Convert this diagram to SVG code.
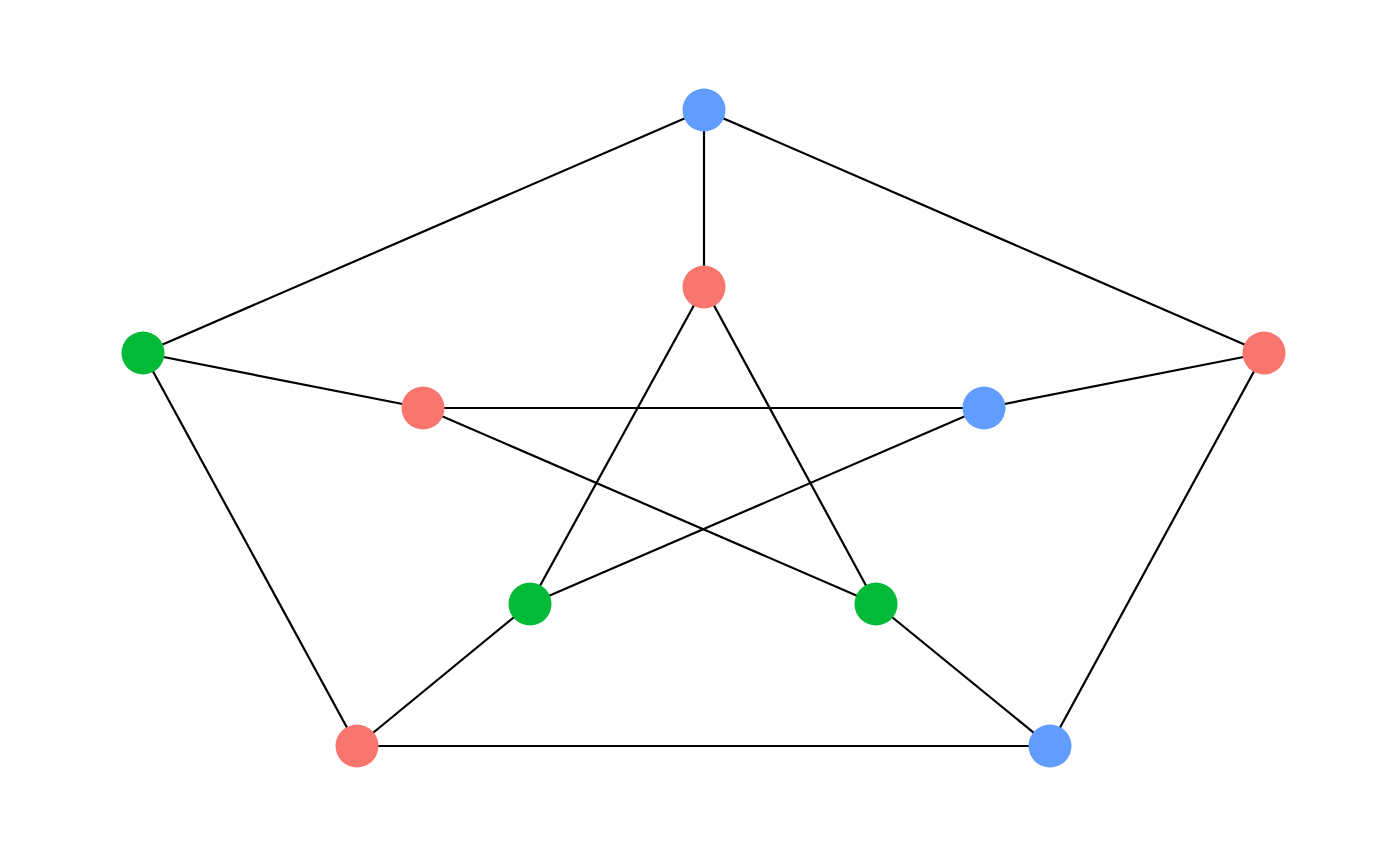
<svg xmlns="http://www.w3.org/2000/svg" width="1400" height="865" viewBox="0 0 1400 865">
<style>
.e{stroke:#000;stroke-width:2.2;fill:none}
.b{fill:#619CFF}.r{fill:#F8766D}.g{fill:#00BA38}
</style>
<rect width="1400" height="865" fill="#fff"/>
<g id="edges" class="e">
<line x1="704" y1="110" x2="143" y2="353"/>
<line x1="704" y1="110" x2="1264" y2="353"/>
<line x1="143" y1="353" x2="357" y2="746"/>
<line x1="1264" y1="353" x2="1050" y2="746"/>
<line x1="357" y1="746" x2="1050" y2="746"/>
<line x1="704" y1="110" x2="704" y2="287"/>
<line x1="143" y1="353" x2="423" y2="408"/>
<line x1="1264" y1="353" x2="984" y2="408"/>
<line x1="357" y1="746" x2="530" y2="604"/>
<line x1="1050" y1="746" x2="876" y2="604"/>
<line x1="704" y1="287" x2="530" y2="604"/>
<line x1="704" y1="287" x2="876" y2="604"/>
<line x1="423" y1="408" x2="984" y2="408"/>
<line x1="423" y1="408" x2="876" y2="604"/>
<line x1="984" y1="408" x2="530" y2="604"/>
</g>
<g id="n1"><circle class="b" cx="704" cy="110" r="21.5"/></g>
<g id="n2"><circle class="g" cx="143" cy="353" r="21.5"/></g>
<g id="n3"><circle class="r" cx="1264" cy="353" r="21.5"/></g>
<g id="n4"><circle class="r" cx="357" cy="746" r="21.5"/></g>
<g id="n5"><circle class="b" cx="1050" cy="746" r="21.5"/></g>
<g id="n6"><circle class="r" cx="704" cy="287" r="21.5"/></g>
<g id="n7"><circle class="r" cx="423" cy="408" r="21.5"/></g>
<g id="n8"><circle class="b" cx="984" cy="408" r="21.5"/></g>
<g id="n9"><circle class="g" cx="530" cy="604" r="21.5"/></g>
<g id="n10"><circle class="g" cx="876" cy="604" r="21.5"/></g>
</svg>
